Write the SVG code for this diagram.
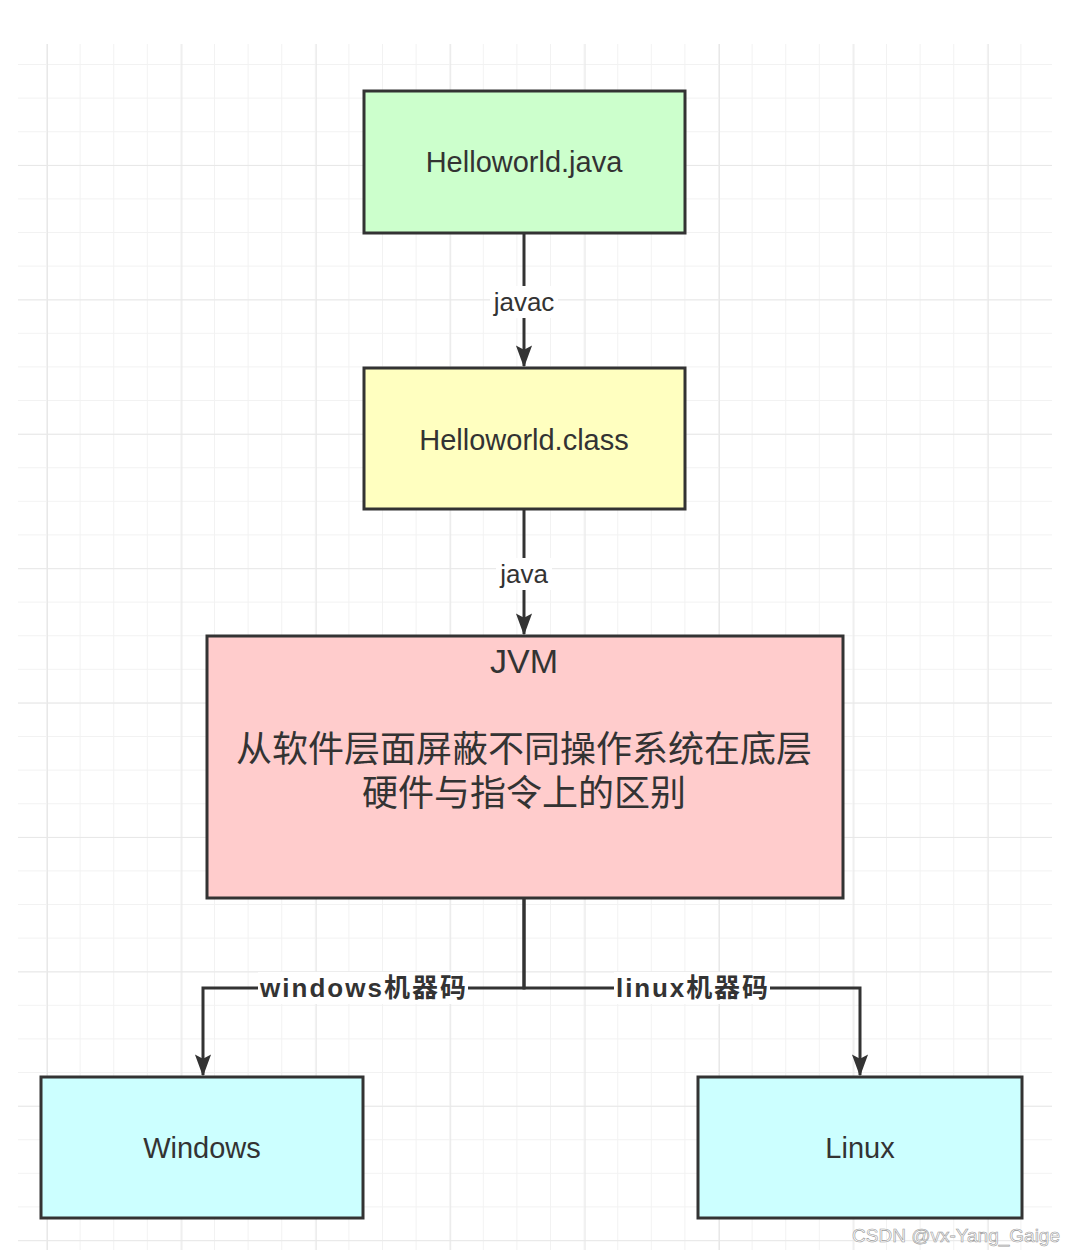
<svg xmlns="http://www.w3.org/2000/svg" width="1066" height="1252" viewBox="0 0 1066 1252">
<defs>
<pattern id="g" x="13.4" y="31.4" width="33.6" height="33.6" patternUnits="userSpaceOnUse">
<path d="M33.6 0V33.6M0 33.6H33.6" stroke="#f2f2f2" stroke-width="2" fill="none"/>
</pattern>
<pattern id="G" x="47" y="31.6" width="134.4" height="134.4" patternUnits="userSpaceOnUse">
<path d="M0 0V134.4M0 134.4H134.4" stroke="#e8e8e8" stroke-width="2" fill="none"/>
</pattern>
<marker id="a" markerWidth="22" markerHeight="30" refX="28" refY="11" orient="auto" markerUnits="userSpaceOnUse" viewBox="0 0 30 22"><path d="M0 0L30 11L0 22L6 11z" fill="#333"/></marker>
</defs>
<style>
.n{stroke:#333;stroke-width:3}
.t{font-family:"Liberation Sans","Noto Sans CJK SC",sans-serif;fill:#333;text-anchor:middle}
.c{stroke:#333;stroke-width:3;fill:none;marker-end:url(#a)}
.l{font-family:"Liberation Sans","Noto Sans CJK SC",sans-serif;font-size:26px;fill:#333;text-anchor:middle}
</style>
<rect width="1066" height="1252" fill="#fff"/>
<rect x="18" y="44" width="1034" height="1206" fill="url(#g)"/>
<rect x="18" y="44" width="1034" height="1206" fill="url(#G)"/>
<g id="connectors">
<path class="c" d="M524 233V366"/>
<rect x="490" y="286" width="68" height="32" fill="#fff"/>
<text class="l" x="524" y="311">javac</text>
<path class="c" d="M524 509V634"/>
<rect x="496" y="558" width="56" height="32" fill="#fff"/>
<text class="l" x="524" y="583">java</text>
<path class="c" d="M524 898V988H203V1075"/>
<path class="c" d="M524 898V988H860V1075"/>
<rect x="258" y="972" width="210" height="32" fill="#fff"/>
<text class="l" x="363" y="997" font-weight="bold" textLength="206">windows机器码</text>
<rect x="614" y="972" width="156" height="32" fill="#fff"/>
<text class="l" x="692" y="997" font-weight="bold" textLength="152">linux机器码</text>
</g>
<g id="java"><rect class="n" x="364" y="91" width="321" height="142" fill="#ccffcc"/><text class="t" x="524" y="172" font-size="29">Helloworld.java</text></g>
<g id="class"><rect class="n" x="364" y="368" width="321" height="141" fill="#ffffc0"/><text class="t" x="524" y="450" font-size="29">Helloworld.class</text></g>
<g id="jvm"><rect class="n" x="207" y="636" width="636" height="262" fill="#ffcccc"/>
<text class="t" x="524" y="673" font-size="34">JVM</text>
<text class="t" x="524" y="762" font-size="36">从软件层面屏蔽不同操作系统在底层</text>
<text class="t" x="524" y="806" font-size="36">硬件与指令上的区别</text></g>
<g id="windows"><rect class="n" x="41" y="1077" width="322" height="141" fill="#ccffff"/><text class="t" x="202" y="1158" font-size="29">Windows</text></g>
<g id="linux"><rect class="n" x="698" y="1077" width="324" height="141" fill="#ccffff"/><text class="t" x="860" y="1158" font-size="29">Linux</text></g>
<text x="1060" y="1242" font-family="Liberation Sans,sans-serif" font-size="19" fill="#fff" stroke="#999" stroke-width="0.6" text-anchor="end">CSDN @vx-Yang_Gaige</text>
</svg>
